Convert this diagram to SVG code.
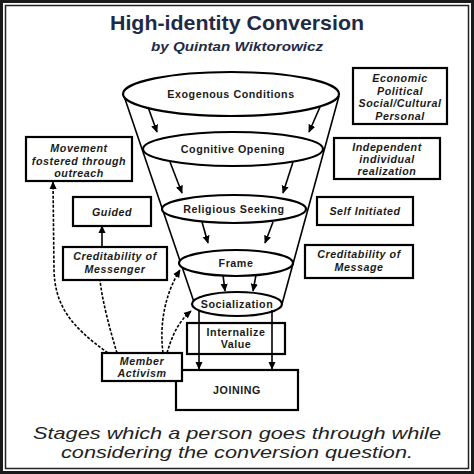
<svg xmlns="http://www.w3.org/2000/svg" width="474" height="474" viewBox="0 0 474 474">
<defs>
<marker id="ah" viewBox="0 0 10 10" refX="9" refY="5" markerWidth="8" markerHeight="8" markerUnits="userSpaceOnUse" orient="auto"><path d="M0,0.5 L10,5 L0,9.5 z" fill="#000"/></marker>
<style>
.node{fill:#fff;stroke:#000;stroke-width:2.2}
.lbl{font-family:"Liberation Sans",Arial,sans-serif;font-weight:700;font-size:10.7px;letter-spacing:0.55px;fill:#1a1a1a;text-anchor:middle}
.it{font-style:italic}
.con{fill:none;stroke:#000;stroke-width:1.6}
.dash{stroke-dasharray:3,1.6}
.cap{font-family:"Liberation Sans",Arial,sans-serif;font-style:italic;font-size:16.5px;fill:#222;text-anchor:middle}
</style>
</defs>
<rect x="0" y="0" width="474" height="474" fill="#fff"/>
<rect x="1.5" y="1.5" width="471" height="471" fill="none" stroke="#1a1a1a" stroke-width="3"/>
<rect x="5.5" y="5.5" width="463" height="463" fill="none" stroke="#222" stroke-width="1.5"/>

<text x="237" y="30" font-family="'Liberation Sans',Arial,sans-serif" font-weight="700" font-size="20.5" fill="#1f2a47" text-anchor="middle" textLength="254" lengthAdjust="spacingAndGlyphs">High-identity Conversion</text>
<text x="237" y="51" font-family="'Liberation Sans',Arial,sans-serif" font-weight="700" font-style="italic" font-size="13.5" fill="#1f2a47" text-anchor="middle" textLength="172" lengthAdjust="spacingAndGlyphs">by Quintan Wiktorowicz</text>

<g id="funnel">
<line x1="124" y1="96" x2="195" y2="305" class="con" stroke-width="2"/>
<line x1="339" y1="96" x2="282" y2="304" class="con" stroke-width="2"/>
</g>

<g id="exogenous"><ellipse cx="231" cy="94" rx="108" ry="22" class="node"/><text x="231" y="98" class="lbl">Exogenous Conditions</text></g>
<g id="cognitive"><ellipse cx="233" cy="149" rx="90" ry="17" class="node"/><text x="233" y="153" class="lbl">Cognitive Opening</text></g>
<g id="religious"><ellipse cx="234" cy="209" rx="72" ry="14" class="node"/><text x="234" y="213" class="lbl">Religious Seeking</text></g>
<g id="frame"><ellipse cx="236" cy="263" rx="57" ry="13" class="node"/><text x="236" y="267" class="lbl">Frame</text></g>
<g id="socialization"><ellipse cx="237" cy="304" rx="45" ry="12" class="node"/><text x="237" y="308" class="lbl">Socialization</text></g>

<g id="economic"><rect x="353" y="68" width="94" height="56" class="node"/><text class="lbl it"><tspan x="400" y="82">Economic</tspan><tspan x="400" y="94.5">Political</tspan><tspan x="400" y="107">Social/Cultural</tspan><tspan x="400" y="119.5">Personal</tspan></text></g>
<g id="independent"><rect x="334" y="138" width="106" height="41" class="node"/><text class="lbl it"><tspan x="387" y="150.8">Independent</tspan><tspan x="387" y="163">individual</tspan><tspan x="387" y="175.2">realization</tspan></text></g>
<g id="selfinit"><rect x="317" y="197" width="96" height="28" class="node"/><text class="lbl it" x="365" y="215">Self Initiated</text></g>
<g id="credmessage"><rect x="305" y="245" width="108" height="33" class="node"/><text class="lbl it"><tspan x="359" y="258.4">Creditability of</tspan><tspan x="359" y="270.6">Message</tspan></text></g>

<g id="movement"><rect x="26" y="137" width="106" height="44" class="node"/><text class="lbl it"><tspan x="79" y="152.3">Movement</tspan><tspan x="79" y="164.5">fostered through</tspan><tspan x="79" y="176.7">outreach</tspan></text></g>
<g id="guided"><rect x="73" y="197" width="78" height="29" class="node"/><text class="lbl it" x="112" y="215.5">Guided</text></g>
<g id="credmessenger"><rect x="63" y="247" width="104" height="33" class="node"/><text class="lbl it"><tspan x="115" y="260.4">Creditability of</tspan><tspan x="115" y="272.6">Messenger</tspan></text></g>
<g id="internalize"><rect x="187" y="323" width="98" height="31" class="node"/><text class="lbl"><tspan x="236" y="335.9">Internalize</tspan><tspan x="236" y="348.1">Value</tspan></text></g>
<g id="joining"><rect x="176" y="370" width="122" height="40" class="node"/><text class="lbl" x="237" y="394">JOINING</text></g>
<g id="member"><rect x="102" y="353" width="80" height="28" class="node"/><text class="lbl it"><tspan x="142" y="364.9">Member</tspan><tspan x="142" y="377.1">Activism</tspan></text></g>

<g id="connectors">
<path d="M148,107 L157,132" class="con" marker-end="url(#ah)"/>
<path d="M320,107 L309,132" class="con" marker-end="url(#ah)"/>
<path d="M170,162 L182,193" class="con" marker-end="url(#ah)"/>
<path d="M293,162 L283,193" class="con" marker-end="url(#ah)"/>
<path d="M202,222 L208,243" class="con" marker-end="url(#ah)"/>
<path d="M273,222 L265,243" class="con" marker-end="url(#ah)"/>
<path d="M223,275 L225,291" class="con" marker-end="url(#ah)"/>
<path d="M256,275 L253,291" class="con" marker-end="url(#ah)"/>
<path d="M199,310 L199,369" class="con" marker-end="url(#ah)"/>
<path d="M272,310 L272,369" class="con" marker-end="url(#ah)"/>
<path d="M102,247 L102,226" class="con" marker-end="url(#ah)"/>
<path d="M108,353 C70,326 55,305 54,270 L53,182" class="con dash" marker-end="url(#ah)"/>
<path d="M117,353 C110,330 102,300 100,280" class="con dash"/>
<path d="M163,353 C159,322 166,292 180,270" class="con dash" marker-end="url(#ah)"/>
<path d="M167,353 C172,336 178,322 191,311" class="con dash" marker-end="url(#ah)"/>
</g>

<text x="237" y="439" class="cap" textLength="408" lengthAdjust="spacingAndGlyphs">Stages which a person goes through while</text>
<text x="237" y="457.5" class="cap" textLength="352" lengthAdjust="spacingAndGlyphs">considering the conversion question.</text>
</svg>
